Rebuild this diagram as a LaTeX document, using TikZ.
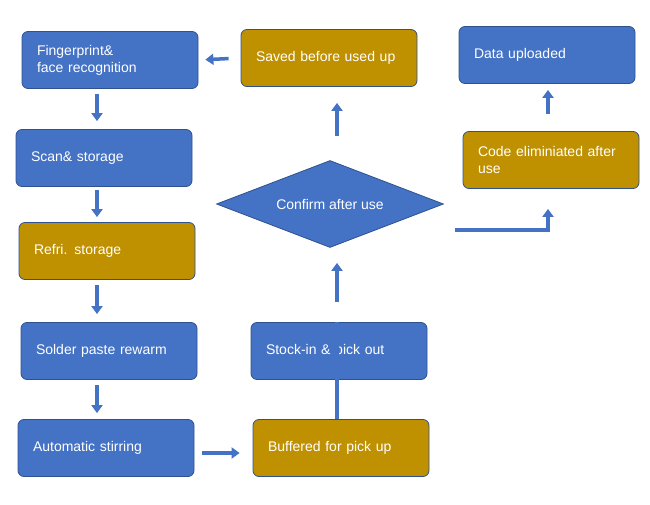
\documentclass[tikz,border=0pt]{standalone}
\usepackage{fontspec}
\setmainfont{Liberation Sans}
\usetikzlibrary{shapes.geometric,arrows.meta}
\definecolor{bl}{HTML}{4472C4}
\definecolor{gd}{HTML}{BF9000}
\definecolor{bd}{HTML}{2F528F}
\begin{document}
\begin{tikzpicture}[x=1pt,y=-1pt,
 box/.style={draw=bd,line width=0.8pt,rounded corners=6pt,minimum width=176pt,minimum height=57pt,text width=146pt,inner xsep=15pt,align=left,text=white,font=\fontsize{14}{17}\selectfont},
 b/.style={box,fill=bl},
 g/.style={box,fill=gd},
 ar/.style={draw=bl,line width=3.5pt,-{Triangle[length=8pt,width=11pt]}}]
\path[use as bounding box] (0,0) rectangle (650,505);
\node[b] (fp) at (110,60) {Fingerprint\&\\face recognition};
\node[g] (sv) at (329,58) {Saved before used up};
\node[b] (du) at (547,55) {Data uploaded};
\node[b] (sc) at (104,158) {Scan\& storage};
\node[g] (ce) at (551,160) {Code eliminiated after use};
\node[diamond,aspect=2.6,draw=bd,line width=0.8pt,fill=bl,text=white,font=\fontsize{14}{17}\selectfont,minimum width=227pt,minimum height=87pt,inner sep=0pt] (cf) at (330,204) {Confirm after use};
\node[g] (rf) at (107,251) {Refri. storage};
\node[b] (sp) at (109,351) {Solder paste rewarm};
\node[b] (st) at (339,351) {Stock-in \& pick out};
\node[b] (as) at (106,448) {Automatic stirring};
\node[g] (bf) at (341,448) {Buffered for pick up};
\draw[ar,shorten <=12pt,shorten >=7pt] (sv.west) -- (fp.east);
\draw[ar,shorten <=5pt,shorten >=8pt] (fp.south -| 97,0) -- (sc.north -| 97,0);
\draw[ar,shorten <=3pt,shorten >=5pt] (sc.south -| 97,0) -- (rf.north -| 97,0);
\draw[ar,shorten <=5pt,shorten >=8pt] (rf.south -| 97,0) -- (sp.north -| 97,0);
\draw[ar,shorten <=5pt,shorten >=6pt] (sp.south -| 97,0) -- (as.north -| 97,0);
\draw[ar,shorten <=8pt,shorten >=13pt] (as.east |- 0,453) -- (bf.west |- 0,453);
\draw[ar,shorten <=9pt,shorten >=5pt] (bf.north -| 337,0) -- (st.north -| 337,0) ++(0,-1);
\draw[ar,shorten <=20pt,shorten >=15pt] (st.north -| 337,0) -- (cf.south -| 337,0);
\draw[ar,shorten <=24pt,shorten >=16pt] (cf.north -| 337,0) -- (sv.south -| 337,0);
\coordinate (e) at (455,230);
\draw[ar,shorten >=20pt] (e) -- (548,230) -- (ce.south -| 548,0);
\draw[ar,shorten <=17pt,shorten >=6pt] (ce.north -| 548,0) -- (du.south -| 548,0);
\end{tikzpicture}
\end{document}
